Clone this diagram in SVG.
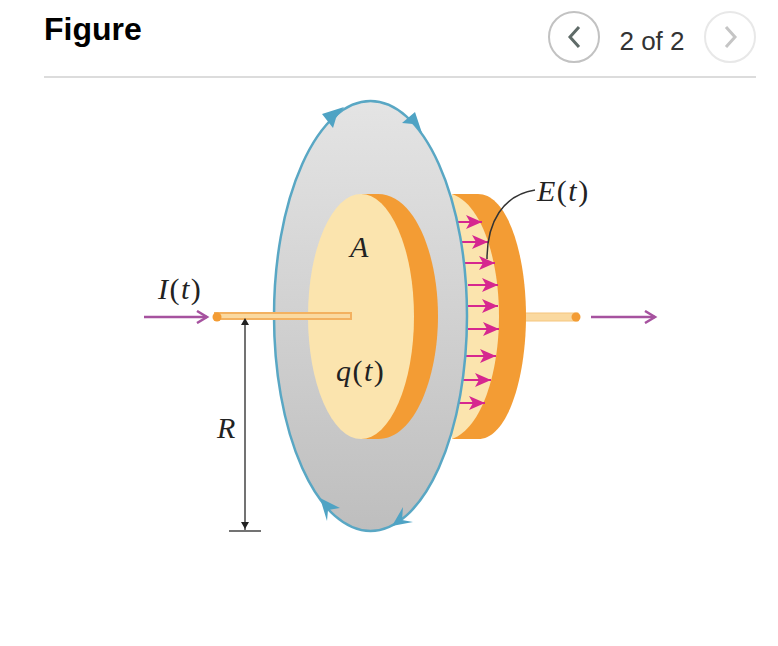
<svg xmlns="http://www.w3.org/2000/svg" width="778" height="646" viewBox="0 0 778 646">
<style>
.m{font-family:"Liberation Serif","Times New Roman",serif;font-size:30px;fill:#222}
.s{letter-spacing:1.500px}
.i{font-style:italic}
.p{stroke:#d6278f;stroke-width:2;fill:none}
.b{fill:#4fa3c4}
.o{fill:#f39c34}
.y{fill:#fbe4ae}
</style>
<defs>
<linearGradient id="g" x1="0" y1="0" x2="0" y2="1"><stop offset="0" stop-color="#e4e4e4"/><stop offset="1" stop-color="#bebebe"/></linearGradient>
<marker id="pk" markerUnits="userSpaceOnUse" markerWidth="18" markerHeight="14" refX="16" refY="7" orient="auto"><path d="M0 0L16 7L0 14L4 7Z" fill="#d6278f"/></marker>
<marker id="pu" markerUnits="userSpaceOnUse" markerWidth="16" markerHeight="14" refX="13" refY="7" orient="auto"><path d="M3 1L13 7L3 13" fill="none" stroke="#a6529f" stroke-width="2.500"/></marker>
</defs>
<rect width="778" height="646" fill="#fff"/>
<g id="header">
<text x="44" y="40" font-family="'Liberation Sans',Arial,sans-serif" font-size="32" font-weight="700" fill="#000">Figure</text>
<line x1="44" y1="77" x2="756" y2="77" stroke="#dcdcdc" stroke-width="2"/>
<circle cx="574" cy="37" r="25" fill="#fff" stroke="#c2c2c2" stroke-width="2"/>
<path d="M579 27L570 37L579 47" fill="none" stroke="#5f6b68" stroke-width="3"/>
<text x="652" y="50" text-anchor="middle" font-family="'Liberation Sans',Arial,sans-serif" font-size="26" fill="#333">2 of 2</text>
<circle cx="730" cy="37" r="25" fill="#fff" stroke="#e8e8e8" stroke-width="2"/>
<path d="M726 27L735 37L726 47" fill="none" stroke="#c5c5c5" stroke-width="3"/>
</g>
<g id="right-wire">
<rect x="520" y="313" width="58" height="8" fill="#fad9a0" stroke="#f6c67f" stroke-width="1"/>
<circle cx="576" cy="317" r="4.500" class="o"/>
</g>
<g id="back-plate">
<path d="M452 194H478C508 194 526 255 526 316C526 377 508 439 478 439H452Z" class="o"/>
<path d="M452 194C482 204 499 260 499 316C499 372 482 428 452 439Z" class="y"/>
</g>
<g id="field-arrows">
<line x1="458" y1="222" x2="482" y2="222" class="p" marker-end="url(#pk)"/>
<line x1="462" y1="242" x2="488" y2="242" class="p" marker-end="url(#pk)"/>
<line x1="465" y1="263" x2="495" y2="263" class="p" marker-end="url(#pk)"/>
<line x1="468" y1="285" x2="498" y2="285" class="p" marker-end="url(#pk)"/>
<line x1="468" y1="306" x2="498" y2="306" class="p" marker-end="url(#pk)"/>
<line x1="468" y1="329" x2="499" y2="329" class="p" marker-end="url(#pk)"/>
<line x1="466" y1="356" x2="496" y2="356" class="p" marker-end="url(#pk)"/>
<line x1="463" y1="380" x2="491" y2="380" class="p" marker-end="url(#pk)"/>
<line x1="459" y1="403" x2="485" y2="403" class="p" marker-end="url(#pk)"/>
</g>
<g id="loop-disc">
<ellipse cx="370.500" cy="316" rx="96.500" ry="215" fill="url(#g)" stroke="#59a7c4" stroke-width="2.500"/>
<path class="b" d="M322 114L344 107L336 118L333 128Z"/>
<path class="b" d="M415 112L422 133L413 124L402 123Z"/>
<path class="b" d="M320 498L340 508L328 510L327 521Z"/>
<path class="b" d="M392 526L403 507L402 520L413 522Z"/>
</g>
<g id="front-plate">
<path d="M362 194H378C415 194 438 255 438 316C438 377 415 439 378 439H362Z" class="o"/>
<ellipse cx="361" cy="316.500" rx="53" ry="122.500" class="y"/>
</g>
<g id="left-wire">
<rect x="215" y="313" width="136" height="6" fill="#fad9a0" stroke="#f3b160" stroke-width="2"/>
<circle cx="217" cy="317" r="4.500" class="o"/>
</g>
<g id="connectors">
<line x1="144" y1="317" x2="207" y2="317" stroke="#a6529f" stroke-width="2.500" marker-end="url(#pu)"/>
<line x1="591" y1="317" x2="655" y2="317" stroke="#a6529f" stroke-width="2.500" marker-end="url(#pu)"/>
<line x1="245" y1="320" x2="245" y2="530" stroke="#444" stroke-width="1.500"/>
<path d="M245 318L249 325H241Z M245 529L249 522H241Z" fill="#222"/>
<line x1="229" y1="531" x2="261" y2="531" stroke="#444" stroke-width="1.500"/>
<path d="M487 259C487 222 503 195 535 190" fill="none" stroke="#333" stroke-width="1.500"/>
</g>
<g id="labels">
<text class="m s" x="158" y="299"><tspan class="i">I</tspan>(<tspan class="i">t</tspan>)</text>
<text class="m i" x="350" y="257">A</text>
<text class="m s" x="336" y="381"><tspan class="i">q</tspan>(<tspan class="i">t</tspan>)</text>
<text class="m i" x="217" y="438">R</text>
<text class="m s" x="537" y="201"><tspan class="i">E</tspan>(<tspan class="i">t</tspan>)</text>
</g>
</svg>
